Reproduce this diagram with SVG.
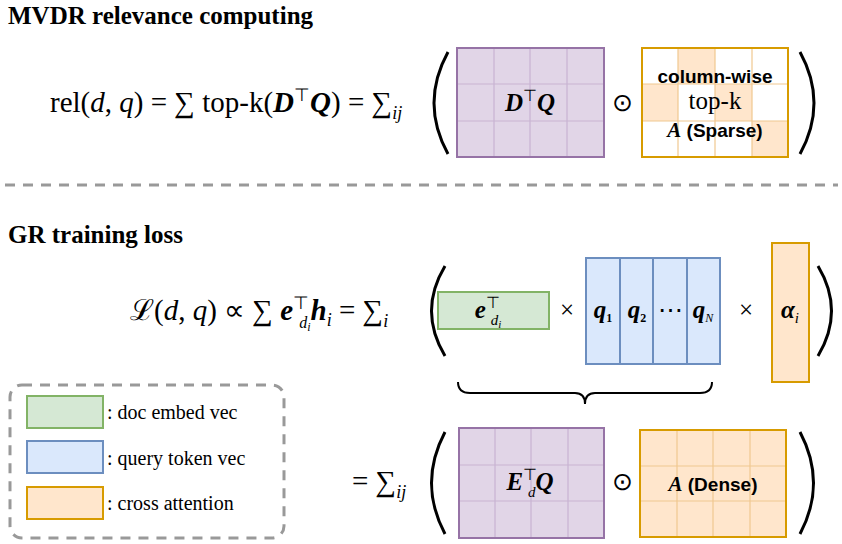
<svg xmlns="http://www.w3.org/2000/svg" width="842" height="544" viewBox="0 0 842 544">
<style>
.t{font-family:"Liberation Serif",serif;font-size:25px;fill:#000}
.e{font-family:"Liberation Serif",serif;font-size:29px;fill:#000}
.h{font-family:"Liberation Serif",serif;font-size:25px;font-weight:bold}
.bi{font-family:"Liberation Serif",serif;font-weight:bold;font-style:italic;font-size:25px}
.s{font-family:"Liberation Sans",sans-serif;font-weight:bold;font-size:19px}
.lg{font-family:"Liberation Serif",serif;font-size:20px}
.pu{fill:#e1d5e7;stroke:#9673a6;stroke-width:2}
.gl{stroke:#c9b3d2;stroke-width:1.2;fill:none}
.or{fill:#ffe6cc;stroke:#d79b00;stroke-width:2}
.og{stroke:#f0c890;stroke-width:1.2;fill:none}
.par{fill:none;stroke:#000;stroke-width:3}
</style>
<text x="8" y="24" class="h">MVDR relevance computing</text>
<text x="8" y="243" class="h">GR training loss</text>
<line x1="5" y1="185" x2="838" y2="185" stroke="#999" stroke-width="3" stroke-dasharray="10,8"/>
<g id="eq1">
<text x="50" y="112" class="e">rel(<tspan font-style="italic">d</tspan>, <tspan font-style="italic">q</tspan>) = ∑ top-k(<tspan font-weight="bold" font-style="italic">D</tspan><tspan font-size="18" dy="-11">⊤</tspan><tspan font-weight="bold" font-style="italic" dy="11">Q</tspan>) = ∑<tspan font-size="18" font-style="italic" dy="7">ij</tspan></text>
<path class="par" d="M448,52 Q420,103 448,154"/>
<path class="par" d="M800,52 Q828,103 800,154"/>
</g>
<g id="DQ">
<rect x="457" y="48" width="147" height="109" class="pu"/>
<path class="gl" d="M494,49V156M530,49V156M567,49V156M458,84H603M458,121H603"/>
<rect x="457" y="48" width="147" height="109" fill="none" stroke="#9673a6" stroke-width="2"/>
<text x="530" y="111" class="bi" text-anchor="middle">D<tspan font-style="normal" font-weight="normal" font-size="16" dy="-10">⊤</tspan><tspan dy="10">Q</tspan></text>
</g>
<text x="622" y="111" class="t" text-anchor="middle">⊙</text>
<g id="Asparse">
<rect x="642" y="48" width="146" height="109" fill="#fff"/>
<rect x="678" y="48" width="37" height="36" fill="#ffe6cc"/>
<rect x="642" y="84" width="36" height="37" fill="#ffe6cc"/>
<rect x="715" y="84" width="37" height="37" fill="#ffe6cc"/>
<rect x="752" y="121" width="36" height="36" fill="#ffe6cc"/>
<path class="og" d="M678,49V156M715,49V156M752,49V156M643,84H787M643,121H787"/>
<rect x="642" y="48" width="146" height="109" fill="none" stroke="#d79b00" stroke-width="2"/>
<text x="715" y="83" class="s" text-anchor="middle">column-wise</text>
<text x="715" y="109" class="t" font-size="20" text-anchor="middle">top-k</text>
<text x="715" y="137" class="s" text-anchor="middle"><tspan font-family="Liberation Serif" font-style="italic" font-size="21">A</tspan> (Sparse)</text>
</g>
<g id="eq2">
<text x="130" y="320" class="e">ℒ(<tspan font-style="italic">d</tspan>, <tspan font-style="italic">q</tspan>) ∝ ∑ <tspan font-weight="bold" font-style="italic">e</tspan><tspan font-size="18" dy="-11">⊤</tspan><tspan font-size="16" font-style="italic" dx="-10" dy="19">d</tspan><tspan font-size="12" font-style="italic" dy="3">i</tspan><tspan font-weight="bold" font-style="italic" dy="-11">h</tspan><tspan font-size="18" font-style="italic" dy="6">i</tspan><tspan dy="-6"> = ∑</tspan><tspan font-size="18" font-style="italic" dy="7">i</tspan></text>
<path class="par" d="M445,266 Q418,311 445,356"/>
<path class="par" d="M818,266 Q845,311 818,356"/>
</g>
<g id="evec">
<rect x="438" y="292" width="111" height="37" fill="#d5e8d4" stroke="#82b366" stroke-width="2"/>
<text x="488" y="318" class="bi" text-anchor="middle">e<tspan font-style="normal" font-weight="normal" font-size="16" dy="-10">⊤</tspan><tspan font-style="italic" font-weight="normal" font-size="15" dx="-9" dy="17">d</tspan><tspan font-style="italic" font-weight="normal" font-size="11" dy="3">i</tspan></text>
</g>
<text x="567" y="318" class="t" text-anchor="middle">×</text>
<g id="qvec">
<rect x="586" y="258" width="134" height="106" fill="#dae8fc" stroke="#6c8ebf" stroke-width="2"/>
<path d="M620,258V364M653,258V364M687,258V364" stroke="#6c8ebf" stroke-width="2"/>
<text x="603" y="318" class="bi" text-anchor="middle">q<tspan font-size="12" font-style="normal" dy="4">1</tspan></text>
<text x="637" y="318" class="bi" text-anchor="middle">q<tspan font-size="12" font-style="normal" dy="4">2</tspan></text>
<text x="670" y="318" class="t" text-anchor="middle">⋯</text>
<text x="703" y="318" class="bi" text-anchor="middle">q<tspan font-size="12" font-style="italic" font-weight="normal" dy="4">N</tspan></text>
</g>
<text x="746" y="318" class="t" text-anchor="middle">×</text>
<g id="alpha">
<rect x="772" y="243" width="37" height="139" class="or"/>
<text x="790" y="318" class="bi" text-anchor="middle">α<tspan font-size="15" font-weight="normal" dy="5">i</tspan></text>
</g>
<path id="brace" d="M458,382 Q458,393 470,393 H575 Q585,393 585,404 Q585,393 595,393 H700 Q712,393 712,382" fill="none" stroke="#000" stroke-width="2"/>
<g id="eq3">
<text x="352" y="491" class="e">= ∑<tspan font-size="18" font-style="italic" dy="7">ij</tspan></text>
<path class="par" d="M445,432 Q418,483 445,534"/>
<path class="par" d="M800,432 Q827,483 800,534"/>
</g>
<g id="EQ">
<rect x="459" y="428" width="145" height="110" class="pu"/>
<path class="gl" d="M495,429V537M531,429V537M568,429V537M460,465H603M460,501H603"/>
<rect x="459" y="428" width="145" height="110" fill="none" stroke="#9673a6" stroke-width="2"/>
<text x="530" y="490" class="bi" text-anchor="middle">E<tspan font-style="normal" font-weight="normal" font-size="16" dy="-10">⊤</tspan><tspan font-style="italic" font-weight="normal" font-size="15" dx="-9" dy="17">d</tspan><tspan dy="-7">Q</tspan></text>
</g>
<text x="622" y="490" class="t" text-anchor="middle">⊙</text>
<g id="Adense">
<rect x="640" y="430" width="146" height="107" class="or"/>
<path class="og" d="M677,431V536M713,431V536M750,431V536M641,466H785M641,501H785"/>
<rect x="640" y="430" width="146" height="107" fill="none" stroke="#d79b00" stroke-width="2"/>
<text x="713" y="491" class="s" text-anchor="middle"><tspan font-family="Liberation Serif" font-style="italic" font-size="21">A</tspan> (Dense)</text>
</g>
<g id="legend">
<rect x="10" y="385" width="274" height="153" rx="12" fill="none" stroke="#999" stroke-width="3" stroke-dasharray="10,8"/>
<rect x="27" y="396" width="76" height="32" fill="#d5e8d4" stroke="#82b366" stroke-width="2"/>
<rect x="27" y="441" width="76" height="32" fill="#dae8fc" stroke="#6c8ebf" stroke-width="2"/>
<rect x="27" y="487" width="76" height="32" fill="#ffe6cc" stroke="#d79b00" stroke-width="2"/>
<text x="107" y="419" class="lg">: doc embed vec</text>
<text x="107" y="465" class="lg">: query token vec</text>
<text x="107" y="510" class="lg">: cross attention</text>
</g>
</svg>
